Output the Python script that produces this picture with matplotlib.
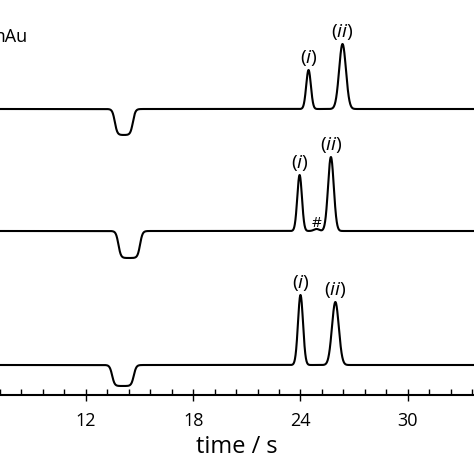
import numpy as np
import matplotlib
matplotlib.use("Agg")
import matplotlib.pyplot as plt

plt.rcParams['font.family'] = ['Open Sans', 'DejaVu Sans']
plt.rcParams['mathtext.fontset'] = 'custom'
plt.rcParams['mathtext.it'] = 'Open Sans:italic'

# trace parameters (offset, dip start, dip end, dip depth, peaks [(t, h, sigma)])
offsets = [256, 134, 0]
dip_start = [13.5, 13.7, 13.35]
dip_end = [14.75, 15.15, 14.8]
dip_depth = [26, 27, 21]
peak_t = [[24.45, 26.35], [23.95, 25.7], [24.0, 25.95]]
peak_h = [39, 56, 70]
peak_h2 = [65, 74, 63]
peak_s = [[0.13, 0.19], [0.13, 0.16], [0.14, 0.19]]
labels = ["($\\mathit{i}$)", "($\\mathit{ii}$)"]
ticks = [12, 18, 24, 30]

t = np.linspace(7.0, 34.5, 4000)
fig = plt.figure(figsize=(4.74, 4.74), dpi=100)
ax = fig.add_axes([0, 79/474, 1, 395/474])
ax.set_xlim(7.6, 33.7)
ax.set_ylim(0, 395)

for k in range(3):
    y = np.full_like(t, offsets[k] + 30.0)
    w = 0.07
    dip = dip_depth[k] * (1/(1+np.exp(-(t-dip_start[k]-0.12)/w)) - 1/(1+np.exp(-(t-dip_end[k]+0.12)/w)))
    y -= dip
    hs = [peak_h[k], peak_h2[k]]
    for j in range(2):
        y += hs[j] * np.exp(-0.5*((t-peak_t[k][j])/peak_s[k][j])**2)
    if k == 1:
        y += 2*np.exp(-0.5*((t-24.9)/0.15)**2)
    ax.plot(t, y, color='black', lw=1.5)
    for j in range(2):
        ax.text(peak_t[k][j], offsets[k]+30+hs[j]+2, labels[j], ha='center', va='bottom', fontsize=14)
    if k == 1:
        ax.text(24.9, offsets[k]+30, "#", ha='center', va='bottom', fontsize=11)

ax.text(-0.025, 395-37, "mAu", transform=ax.get_yaxis_transform(), fontsize=13, va='center', ha='left')
for s in ['left', 'right', 'top']:
    ax.spines[s].set_visible(False)
ax.spines['bottom'].set_linewidth(1.5)
ax.set_yticks([])
ax.set_xticks(ticks)
ax.set_xticks(np.arange(7.2, 34.0, 1.2), minor=True)
ax.tick_params(axis='x', which='major', direction='inout', length=8, width=1, labelsize=13, pad=8)
ax.tick_params(axis='x', which='minor', direction='in', length=4, width=1)
ax.set_xlabel("time / s", fontsize=17, labelpad=4)
fig.savefig("out.png", dpi=100)
